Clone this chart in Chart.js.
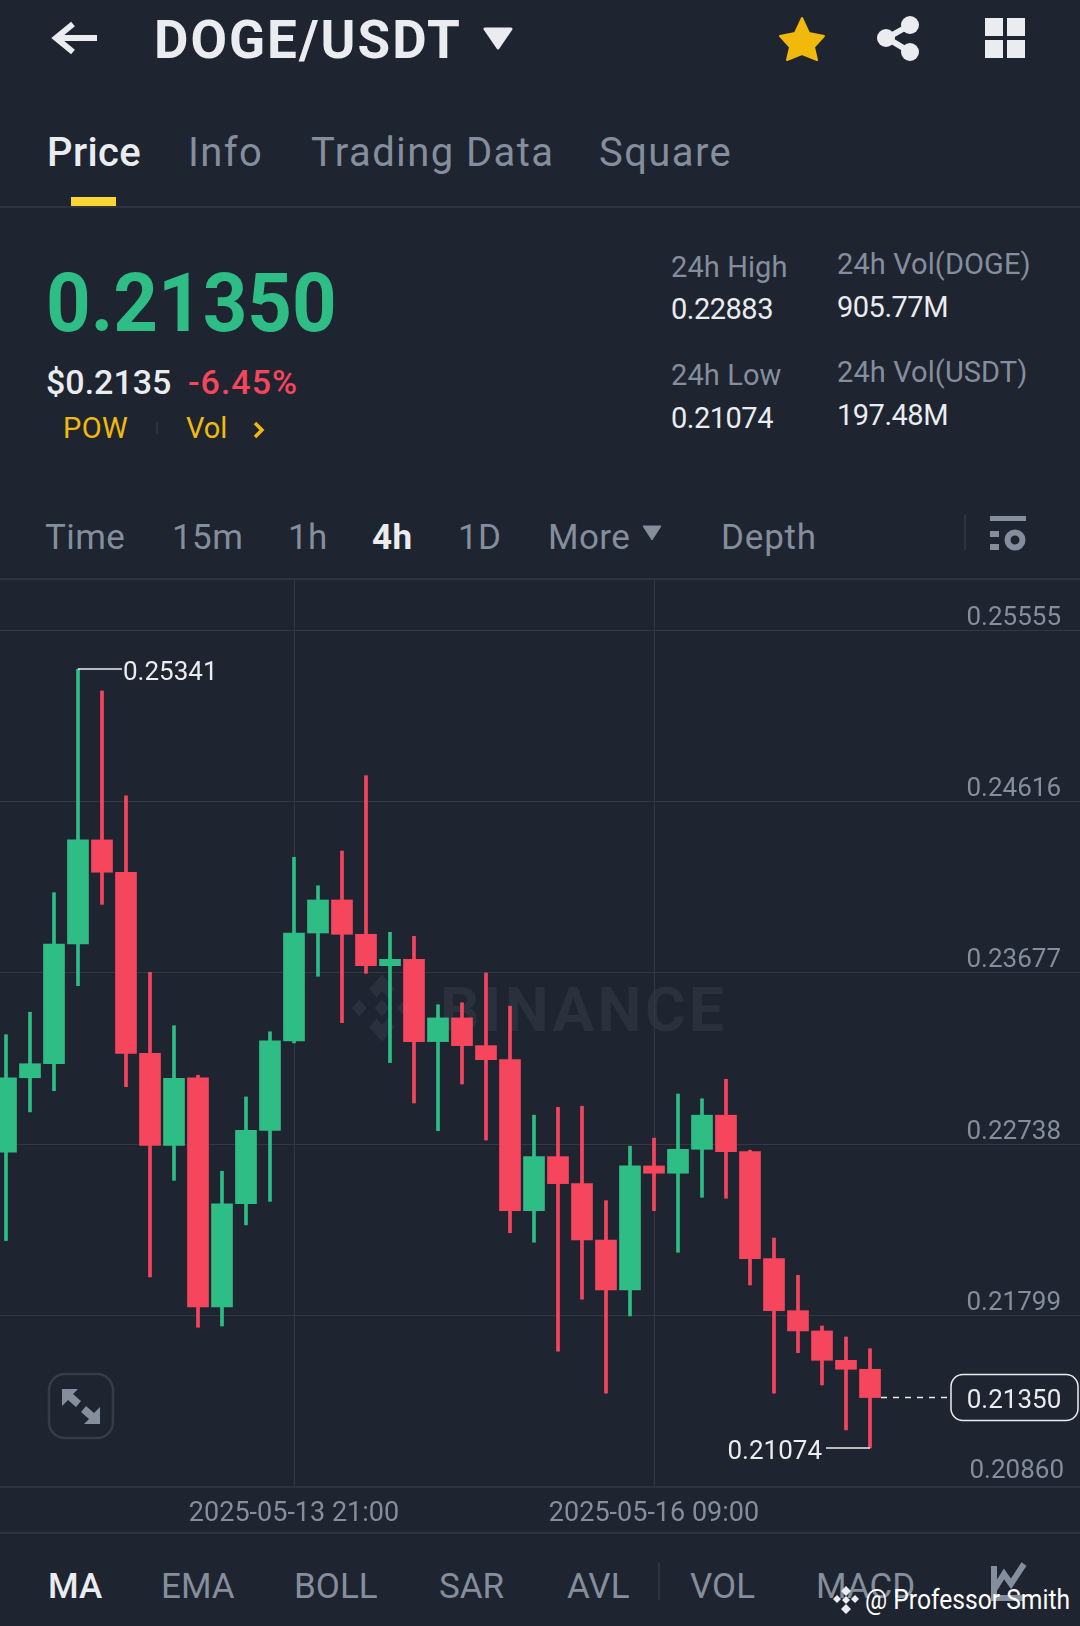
<!DOCTYPE html>
<html lang="en">
<head>
    <meta charset="UTF-8">
    <title>DOGE/USDT</title>
    <script src="https://cdn.jsdelivr.net/npm/chart.js"></script>
    <style>
        html, body { margin: 0; padding: 0; background: #1e2430; }
        #page { position: relative; width: 1080px; height: 1626px; overflow: hidden; background: #1e2430; font-family: Roboto, sans-serif; }
        .t { position: absolute; white-space: nowrap; line-height: 1; color: #848e9c; }
        .w { color: #eaecef; }
        .hr { position: absolute; left: 0; width: 1080px; background: #2e343f; }
        .vr { position: absolute; width: 2px; background: #2e343f; }
        svg { position: absolute; overflow: visible; }
        canvas { position: absolute; left: 0; top: 580px; }
        .tab { font-size: 40px; top: 133px; letter-spacing: 1.4px; }
        .stat { font-size: 29px; letter-spacing: .1px; }
        .val { letter-spacing: -.5px; }
        .frame { font-size: 35px; top: 520px; letter-spacing: .4px; }
        .ind { font-size: 35px; top: 1569px; }
    </style>
</head>
<body>
<div id="page">
    <!-- Barra superior -->
    <svg style="left:0;top:0" width="1080" height="70">
        <path d="M97 38H57M73 24L56 38L73 52" fill="none" stroke="#eaecef" stroke-width="6"/>
        <path d="M485 29H511L498 48Z" fill="#eaecef" stroke="#eaecef" stroke-width="3" stroke-linejoin="round"/>
        <path d="M802 18L809 33L824 36L814 47L817 60L802 54L787 60L790 47L780 36L795 33Z" fill="#f0b90b" stroke="#f0b90b" stroke-width="2" stroke-linejoin="round"/>
        <path d="M910 25L887 38L910 52" fill="none" stroke="#eaecef" stroke-width="6"/>
        <circle cx="910" cy="25" r="9" fill="#eaecef"/><circle cx="886" cy="38" r="9" fill="#eaecef"/><circle cx="910" cy="52" r="9" fill="#eaecef"/>
        <path d="M985 18h18v18h-18zM1007 18h18v18h-18zM985 40h18v18h-18zM1007 40h18v18h-18z" fill="#eaecef"/>
    </svg>
    <span class="t w" style="left:154px;top:14px;font-size:53px;font-weight:700;letter-spacing:2px">DOGE/USDT</span>

    <span class="t w tab" style="left:47px;font-weight:500;letter-spacing:.4px">Price</span>
    <span class="t tab" style="left:188px">Info</span>
    <span class="t tab" style="left:311px">Trading Data</span>
    <span class="t tab" style="left:599px">Square</span>
    <div style="position:absolute;left:71px;top:197px;width:45px;height:9px;background:#fcd535"></div>
    <div class="hr" style="top:206px;height:2px"></div>

    <!-- Precio -->
    <span class="t" style="left:46px;top:262px;font-size:82px;font-weight:700;color:#2ebd85;transform:scaleX(.95);transform-origin:left">0.21350</span>
    <span class="t w" style="left:46px;top:365px;font-size:34px;font-weight:500">$0.2135</span>
    <span class="t" style="left:188px;top:365px;font-size:34px;font-weight:500;color:#f6465d;letter-spacing:1px">-6.45%</span>
    <span class="t" style="left:63px;top:414px;font-size:29px;color:#f0b90b;letter-spacing:.4px">POW</span>
    <div class="vr" style="left:156px;top:422px;height:12px"></div>
    <span class="t" style="left:186px;top:414px;font-size:29px;color:#f0b90b">Vol</span>
    <svg style="left:0;top:0" width="300" height="450"><path d="M255 423L262 430L255 437" fill="none" stroke="#f0b90b" stroke-width="3.5"/></svg>

    <span class="t stat" style="left:671px;top:253px">24h High</span>
    <span class="t stat" style="left:837px;top:250px">24h Vol(DOGE)</span>
    <span class="t stat w val" style="left:671px;top:295px">0.22883</span>
    <span class="t stat w val" style="left:837px;top:293px">905.77M</span>
    <span class="t stat" style="left:671px;top:361px">24h Low</span>
    <span class="t stat" style="left:837px;top:358px">24h Vol(USDT)</span>
    <span class="t stat w val" style="left:671px;top:404px">0.21074</span>
    <span class="t stat w val" style="left:837px;top:401px">197.48M</span>

    <!-- Intervalos -->
    <span class="t frame" style="left:45px">Time</span>
    <span class="t frame" style="left:172px">15m</span>
    <span class="t frame" style="left:288px">1h</span>
    <span class="t frame w" style="left:372px;font-weight:700">4h</span>
    <span class="t frame" style="left:458px">1D</span>
    <span class="t frame" style="left:548px">More</span>
    <span class="t frame" style="left:721px;letter-spacing:.8px">Depth</span>
    <div class="vr" style="left:964px;top:515px;height:35px"></div>
    <svg style="left:0;top:500px" width="1080" height="60">
        <path d="M643 26H661L652 40Z" fill="#848e9c" stroke="#848e9c" stroke-linejoin="round"/>
        <path d="M990 16h36v5h-36zM990 31h9v6h-9zM990 44h9v6h-9z" fill="#848e9c"/>
        <circle cx="1015" cy="40" r="7.5" fill="none" stroke="#848e9c" stroke-width="6"/>
    </svg>
    <div class="hr" style="top:578px;height:2px"></div>

    <!-- Marca de agua detras del canvas -->
    <svg style="left:0;top:0" width="500" height="1100">
        <g fill="#2a303c" transform="translate(382 1008) scale(1.08 1.2)">
            <path d="M0-28L12-16L5-9L0-14L-5-9L-12-16Z"/><path d="M0 28L12 16L5 9L0 14L-5 9L-12 16Z"/>
            <path d="M-28 0L-21-7L-14 0L-21 7Z"/><path d="M28 0L21-7L14 0L21 7Z"/><path d="M0-7L7 0L0 7L-7 0Z"/>
        </g>
    </svg>
    <span class="t" style="left:440px;top:979px;font-size:62px;font-weight:700;color:#2a303c;letter-spacing:3.5px">BINANCE</span>

    <canvas id="candleChart" width="1080" height="954"></canvas>

    <!-- Boton de expandir -->
    <svg style="left:0;top:1360px" width="130" height="90">
        <rect x="49" y="14" width="64" height="64" rx="16" fill="none" stroke="#363c48" stroke-width="2.5"/>
        <path d="M62 29H78L73 34L81 41L76 47L68 40L62 46ZM100 64H84L89 59L81 52L86 46L94 53L100 47Z" fill="#848e9c"/>
    </svg>

    <!-- Indicadores -->
    <div class="hr" style="top:1532px;height:2px"></div>
    <span class="t ind w" style="left:48px;font-weight:500">MA</span>
    <span class="t ind" style="left:161px">EMA</span>
    <span class="t ind" style="left:294px">BOLL</span>
    <span class="t ind" style="left:439px">SAR</span>
    <span class="t ind" style="left:567px">AVL</span>
    <div class="vr" style="left:658px;top:1563px;height:37px"></div>
    <span class="t ind" style="left:690px">VOL</span>
    <span class="t ind" style="left:816px">MACD</span>
    <svg style="left:0;top:1560px" width="1080" height="60">
        <path d="M994 6V38H1024M994 30L1004 14L1011 24L1024 4" fill="none" stroke="#848e9c" stroke-width="6"/>
        <path d="M846 26l5 5-5 5-5-5zM846 44l5 5-5 5-5-5zM837 35l4 4-4 4-4-4zM855 35l4 4-4 4-4-4zM846 36l4 4-4 4-4-4z" fill="#eaecef"/>
    </svg>
    <span class="t" style="left:865px;top:1586px;font-size:28px;color:#fff;transform:scaleX(.88);transform-origin:left">@ Professor Smith</span>
</div>

<script>
    // Datos (velas de 4h)
    const times = [
        '2025-05-11 21:00', '2025-05-12 01:00', '2025-05-12 05:00', '2025-05-12 09:00', '2025-05-12 13:00',
        '2025-05-12 17:00', '2025-05-12 21:00', '2025-05-13 01:00', '2025-05-13 05:00', '2025-05-13 09:00',
        '2025-05-13 13:00', '2025-05-13 17:00', '2025-05-13 21:00', '2025-05-14 01:00', '2025-05-14 05:00',
        '2025-05-14 09:00', '2025-05-14 13:00', '2025-05-14 17:00', '2025-05-14 21:00', '2025-05-15 01:00',
        '2025-05-15 05:00', '2025-05-15 09:00', '2025-05-15 13:00', '2025-05-15 17:00', '2025-05-15 21:00',
        '2025-05-16 01:00', '2025-05-16 05:00', '2025-05-16 09:00', '2025-05-16 13:00', '2025-05-16 17:00',
        '2025-05-16 21:00', '2025-05-17 01:00', '2025-05-17 05:00', '2025-05-17 09:00', '2025-05-17 13:00',
        '2025-05-17 17:00', '2025-05-17 21:00'
    ];
    const opens = [
        0.22694, 0.23102, 0.23179, 0.23835, 0.24405, 0.24228, 0.23236, 0.22732, 0.23102, 0.21846,
        0.22412, 0.22814, 0.23304, 0.23895, 0.24076, 0.23888, 0.23716, 0.23751, 0.23300, 0.23430,
        0.23278, 0.23201, 0.22374, 0.22670, 0.22522, 0.22213, 0.21940, 0.22619, 0.22579, 0.22710,
        0.22897, 0.22697, 0.22111, 0.21826, 0.21715, 0.21554, 0.21505
    ];
    const closes = [
        0.23102, 0.23179, 0.23835, 0.24405, 0.24228, 0.23236, 0.22732, 0.23099, 0.21846, 0.22412,
        0.22814, 0.23304, 0.23895, 0.24076, 0.23888, 0.23716, 0.23751, 0.23300, 0.23430, 0.23278,
        0.23201, 0.22374, 0.22670, 0.22522, 0.22213, 0.21940, 0.22619, 0.22579, 0.22710, 0.22897,
        0.22697, 0.22111, 0.21826, 0.21715, 0.21554, 0.21505, 0.21350
    ];
    const highs = [
        0.23338, 0.23461, 0.24116, 0.25341, 0.25221, 0.24647, 0.23680, 0.23387, 0.23116, 0.22590,
        0.22997, 0.23354, 0.24310, 0.24154, 0.24344, 0.24757, 0.23899, 0.23877, 0.23502, 0.23513,
        0.23676, 0.23494, 0.22897, 0.22940, 0.22946, 0.22429, 0.22727, 0.22771, 0.23013, 0.22987,
        0.23094, 0.22705, 0.22224, 0.22020, 0.21742, 0.21682, 0.21618
    ];
    const lows = [
        0.22210, 0.22915, 0.23031, 0.23606, 0.24052, 0.23053, 0.22011, 0.22540, 0.21735, 0.21742,
        0.22296, 0.22425, 0.23293, 0.23658, 0.23404, 0.23674, 0.23185, 0.22964, 0.22812, 0.23068,
        0.22761, 0.22253, 0.22201, 0.21604, 0.21889, 0.21374, 0.21797, 0.22374, 0.22146, 0.22447,
        0.22442, 0.21967, 0.21374, 0.21596, 0.21419, 0.21173, 0.21074
    ];
    const priceTicks = [0.21799, 0.22738, 0.23677, 0.24616, 0.25555];
    const bottomTick = [0.20860];
    const timeTicks = [12, 27];

    const GREEN = '#2ebd85';
    const RED = '#f6465d';
    const colors = opens.map((o, i) => closes[i] >= o ? GREEN : RED);

    // Etiquetas de maximo, minimo y precio actual
    const priceMarks = {
        id: 'priceMarks',
        afterDraw(chart) {
            const { ctx, scales: { x, y } } = chart;
            const high = Math.max(...highs), low = Math.min(...lows), last = closes[closes.length - 1];
            const hiX = x.getPixelForValue(highs.indexOf(high)), loX = x.getPixelForValue(lows.indexOf(low));
            const lastX = x.getPixelForValue(closes.length - 1);
            ctx.save();
            ctx.font = '26px Roboto';
            ctx.textBaseline = 'middle';
            ctx.fillStyle = ctx.strokeStyle = '#eaecef';
            ctx.lineWidth = 1.5;

            ctx.beginPath();
            ctx.moveTo(hiX, y.getPixelForValue(high));
            ctx.lineTo(hiX + 44, y.getPixelForValue(high));
            ctx.moveTo(loX, y.getPixelForValue(low));
            ctx.lineTo(loX - 44, y.getPixelForValue(low));
            ctx.stroke();
            ctx.textAlign = 'left';
            ctx.fillText(high.toFixed(5), hiX + 45, y.getPixelForValue(high) + 4);
            ctx.textAlign = 'right';
            ctx.fillText(low.toFixed(5), loX - 48, y.getPixelForValue(low) + 5);

            const lastY = y.getPixelForValue(last);
            ctx.setLineDash([6, 6]);
            ctx.beginPath();
            ctx.moveTo(lastX + 11, lastY);
            ctx.lineTo(947, lastY);
            ctx.stroke();
            ctx.setLineDash([]);
            ctx.beginPath();
            ctx.roundRect(951, lastY - 23, 127, 46, 12);
            ctx.fillStyle = '#1e2430';
            ctx.fill();
            ctx.stroke();
            ctx.fillStyle = '#eaecef';
            ctx.textAlign = 'center';
            ctx.fillText(last.toFixed(5), 1014, lastY + 4);
            ctx.restore();
        }
    };

    new Chart(document.getElementById('candleChart').getContext('2d'), {
        type: 'bar',
        data: {
            datasets: [
                {
                    label: 'Wick',
                    data: lows.map((l, i) => ({ x: i, y: [l, highs[i]] })),
                    backgroundColor: colors,
                    barThickness: 3,
                    order: 2
                },
                {
                    label: 'Body',
                    data: opens.map((o, i) => ({ x: i, y: [o, closes[i]] })),
                    backgroundColor: colors,
                    barThickness: 21,
                    order: 1
                }
            ]
        },
        options: {
            responsive: false,
            animation: false,
            devicePixelRatio: 1,
            layout: { padding: 0 },
            grouped: false,
            plugins: { legend: { display: false }, tooltip: { enabled: false } },
            scales: {
                x: {
                    type: 'linear',
                    offset: false,
                    min: -6 / 24,
                    max: 1074 / 24,
                    afterBuildTicks: s => { s.ticks = timeTicks.map(v => ({ value: v })); },
                    afterFit: s => { s.height = 47; },
                    grid: { color: '#333944', lineWidth: 1, drawTicks: false, offset: false },
                    border: { color: '#2e343f', width: 2 },
                    ticks: {
                        autoSkip: false,
                        maxRotation: 0,
                        padding: 11,
                        color: '#848e9c',
                        font: { family: 'Roboto', size: 27 },
                        callback: v => times[v]
                    }
                },
                y: {
                    position: 'right',
                    min: 0.20860,
                    max: 0.25829,
                    afterBuildTicks: s => { s.ticks = priceTicks.map(v => ({ value: v })); },
                    afterFit: s => { s.width = 0; },
                    grid: { color: '#333944', lineWidth: 1, drawTicks: false },
                    border: { display: false },
                    ticks: {
                        mirror: true,
                        padding: -19,
                        labelOffset: -12,
                        autoSkip: false,
                        color: '#848e9c',
                        font: { family: 'Roboto', size: 26 },
                        callback: v => v.toFixed(5)
                    }
                },
                // la etiqueta inferior va algo mas arriba y a la derecha
                yBottom: {
                    axis: 'y',
                    position: 'right',
                    min: 0.20860,
                    max: 0.25829,
                    afterBuildTicks: s => { s.ticks = bottomTick.map(v => ({ value: v })); },
                    afterFit: s => { s.width = 0; },
                    grid: { display: false },
                    border: { display: false },
                    ticks: {
                        mirror: true,
                        padding: -16,
                        labelOffset: -16,
                        autoSkip: false,
                        color: '#848e9c',
                        font: { family: 'Roboto', size: 26 },
                        callback: v => v.toFixed(5)
                    }
                }
            }
        },
        plugins: [priceMarks]
    });
</script>
</body>
</html>
